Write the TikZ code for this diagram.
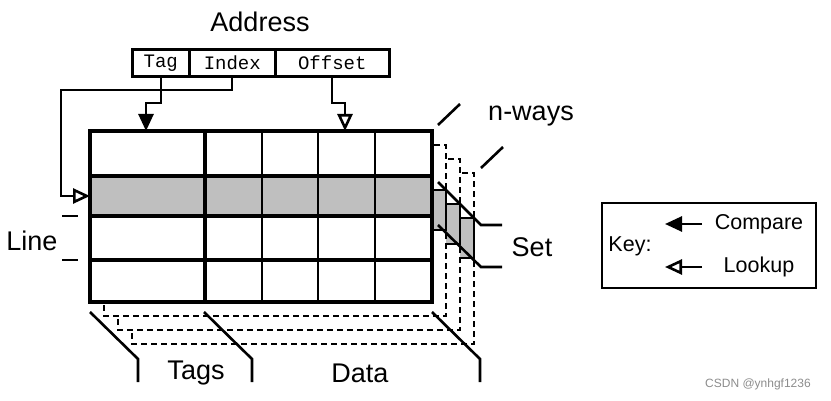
\documentclass[tikz,border=0pt]{standalone}
\usepackage{fontspec}
\setmainfont{Liberation Sans}
\newfontfamily\monof{Liberation Mono}
\usetikzlibrary{arrows.meta}
\begin{document}
\begin{tikzpicture}[x=1pt,y=-1pt,
  thick line/.style={line width=4.5pt},
  thin line/.style={line width=2.6pt},
  dashline/.style={line width=2.6pt,dash pattern=on 6pt off 4pt},
  lab/.style={font=\fontsize{27}{30}\selectfont,inner sep=0pt},
  keylab/.style={font=\fontsize{21.5}{25}\selectfont,inner sep=0pt},
  field/.style={draw,line width=2.6pt,minimum height=27pt,inner sep=0pt,font=\monof\fontsize{19}{22}\selectfont},
  filled/.style={-{Triangle[length=17pt,width=15pt]},line width=2.6pt},
  open/.style={-{Triangle[open,length=17pt,width=15pt,line width=2.6pt]},line width=2.6pt}]
\useasboundingbox (0,0) rectangle (831,401);
% back layers
\foreach \k in {3,2,1}{
  \pgfmathsetmacro{\d}{14*\k}
  \draw[dashline,fill=white] (90+\d,131+\d) rectangle (432+\d,302+\d);
  \draw[thin line,fill=black!25] (90+\d,176+\d) rectangle (432+\d,216+\d);
}
% front array
\fill[white] (90,131) rectangle (432,302);
\fill[black!25] (90,176) rectangle (432,216);
\foreach \x in {262,318,375} \draw[thin line] (\x,131) -- (\x,302);
\draw[thick line] (205,131) -- (205,302);
\foreach \y in {176,216,260} \draw[thick line] (90,\y) -- (432,\y);
\draw[thick line] (90,131) rectangle (432,302);
\coordinate (tagin) at (146,131);
\coordinate (offin) at (345,131);
\coordinate (linein) at (90,196);
% address fields
\node[field,minimum width=57pt,anchor=north west] (tag) at (131,48) {Tag};
\node[field,minimum width=86pt,anchor=north west] (idx) at (188,48) {Index};
\node[field,minimum width=114pt,anchor=north west] (off) at (274,48) {Offset};
\node[lab] (addr) at (260,22) {Address};
\draw[filled] (tag.south -| 161,0) -- (161,103) -- (146,103) -- (tagin);
\draw[open] (idx.south -| 232,0) -- (232,90) -- (61,90) -- (61,196) -- (linein);
\draw[open] (off.south -| 332,0) -- (332,103) -- (345,103) -- (offin);
% n-ways
\draw[thin line] (438,125) -- (460,104);
\draw[thin line] (481,168) -- (503,147);
\node[lab] (nways) at (531,116) {n-ways};
% set
\draw[thin line] (438,182) -- (481,225) -- (502,225);
\draw[thin line] (438,225) -- (481,267) -- (502,267);
\node[lab] (set) at (532,247) {Set};
% line
\node[lab] (line) at (32,241) {Line};
\draw[thin line] (62,216) -- (78,216);
\draw[thin line] (62,260) -- (78,260);
% bottom
\draw[thin line] (90,312) -- (138,359) -- (138,382);
\draw[thin line] (204,312) -- (252,359) -- (252,382);
\draw[thin line] (432,312) -- (480,359) -- (480,382);
\node[lab] (tags) at (196,373) {Tags};
\node[lab] (data) at (360,373) {Data};
% key
\draw[thin line] (602,203) rectangle (816,288);
\node[keylab] (key) at (630,246) {Key:};
\coordinate (c1) at (702,224); \coordinate (c2) at (665,224);
\coordinate (l1) at (702,267); \coordinate (l2) at (665,267);
\draw[filled] (c1) -- (c2);
\draw[open] (l1) -- (l2);
\node[keylab] (cmp) at (759,224) {Compare};
\node[keylab] (lku) at (759,267) {Lookup};
\node[font=\fontsize{12}{14}\selectfont,text=black!45,inner sep=0pt] (wm) at (758,384) {CSDN @ynhgf1236};
\end{tikzpicture}
\end{document}
